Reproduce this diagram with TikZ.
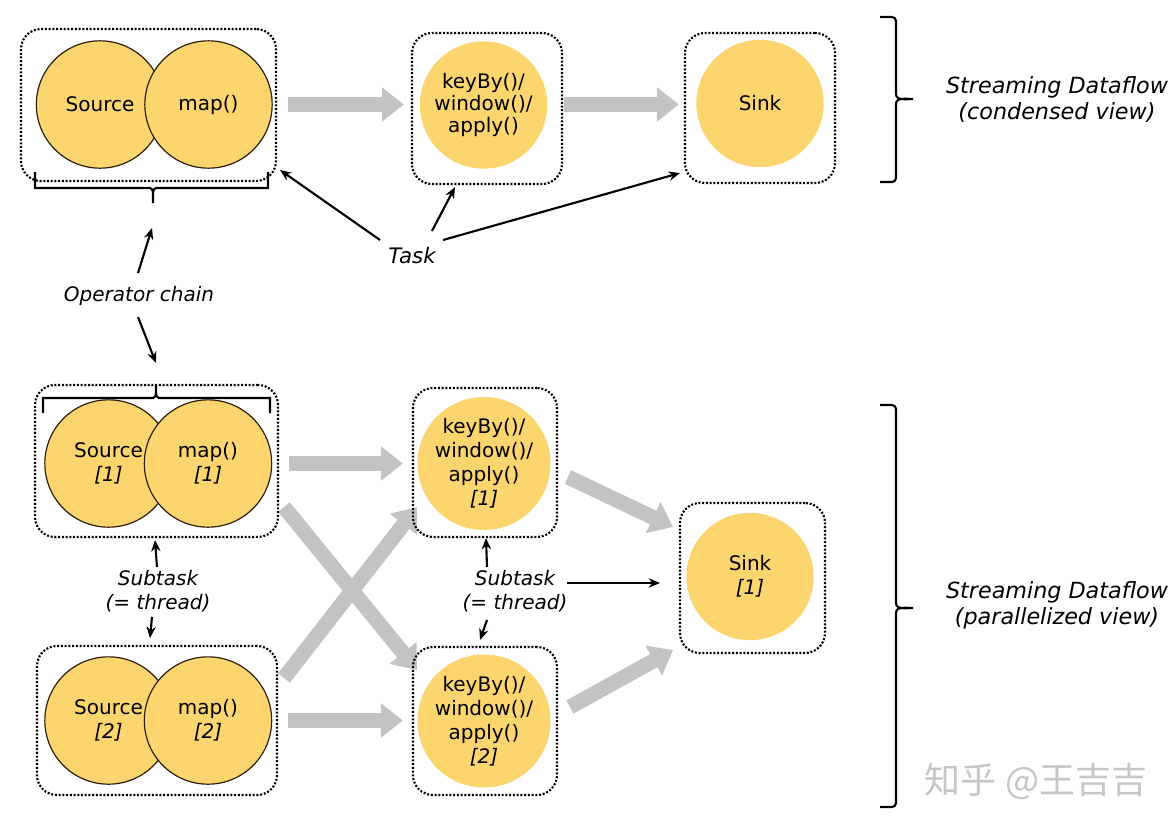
\documentclass[tikz,border=0pt]{standalone}
\usepackage{fontspec}
\setmainfont{DejaVu Sans}
\newfontfamily\cjkfont{Noto Sans CJK SC}
\usetikzlibrary{arrows.meta}
\definecolor{opfill}{RGB}{253,213,110}
\definecolor{opline}{RGB}{45,30,10}
\definecolor{flowgray}{RGB}{195,195,195}
\pgfdeclarelayer{background}
\pgfsetlayers{background,main}
\begin{document}
\begin{tikzpicture}[x=0.75pt,y=-0.75pt,
  taskbox/.style={draw, line width=1.6pt, dash pattern=on 1.5pt off 1.3pt, rounded corners=15pt, inner sep=0pt},
  opcirc/.style={circle, fill=opfill, draw=opline, line width=0.9pt, minimum size=95.5pt, inner sep=0pt},
  opcircn/.style={circle, fill=opfill, minimum size=95.5pt, inner sep=0pt},
  optext/.style={font=\fontsize{15}{18}\selectfont, align=center},
  optextt/.style={font=\fontsize{15}{16.5}\selectfont, align=center},
  flow/.style={draw=flowgray, line width=11.25pt, -{Triangle[length=16.5pt, width=24.75pt]}},
  note/.style={-{Stealth[length=8.5pt,width=7pt]}, line width=1.6pt},
  brace/.style={line width=1.6pt},
  lbl/.style={font=\fontsize{15}{18}\selectfont\itshape, align=center, inner sep=1pt},
  biglbl/.style={font=\fontsize{16.7}{19.5}\selectfont\itshape, align=center, inner sep=1pt}
]
\useasboundingbox (0,0) rectangle (1176,832);

% ---------- task boxes ----------
\node[taskbox, minimum width=191.25pt, minimum height=114pt] (b1) at (148.5,105) {};
\node[taskbox, minimum width=112.5pt, minimum height=113.25pt] (b2) at (487,108.5) {};
\node[taskbox, minimum width=112.5pt, minimum height=112.5pt] (b3) at (760,108) {};
\node[taskbox, minimum width=182.25pt, minimum height=114pt] (b4) at (156.5,461) {};
\node[taskbox, minimum width=180pt, minimum height=111.75pt] (b5) at (157,720.5) {};
\node[taskbox, minimum width=108pt, minimum height=111.75pt] (b6) at (485,462.5) {};
\node[taskbox, minimum width=108pt, minimum height=111pt] (b7) at (485,721) {};
\node[taskbox, minimum width=108.75pt, minimum height=112.5pt] (b8) at (752.5,578) {};

% ---------- operators ----------
\node[opcirc, optext] (src) at (100,104.5) {Source};
\node[opcirc, optext] (map) at (208.5,104.5) {map()};
\node[opcircn, optextt] (kw) at (483.5,105) {keyBy()/\\window()/\\apply()};
\node[opcircn, optext] (sink) at (760,103.5) {Sink};

\node[opcirc, optext] (src1) at (108.5,463.5) {Source\\\textit{[1]}};
\node[opcirc, optext] (map1) at (208,463.5) {map()\\\textit{[1]}};
\node[opcirc, optext] (src2) at (108.5,720.5) {Source\\\textit{[2]}};
\node[opcirc, optext] (map2) at (208,720.5) {map()\\\textit{[2]}};
\node[opcircn, optext] (kw1) at (484,463.5) {keyBy()/\\window()/\\apply()\\\textit{[1]}};
\node[opcircn, optext] (kw2) at (484,721) {keyBy()/\\window()/\\apply()\\\textit{[2]}};
\node[opcircn, optext] (sink1) at (750,576.5) {Sink\\\textit{[1]}};

% ---------- data flow arrows ----------
\coordinate (c1s) at (284,507);
\coordinate (c1e) at (417,670);
\coordinate (c2s) at (284,678);
\coordinate (c2e) at (417,507);
\coordinate (d1s) at (568,477);
\coordinate (d1e) at (673,527);
\coordinate (d2s) at (570,707);
\coordinate (d2e) at (673,650);
\begin{pgfonlayer}{background}
\draw[flow, shorten <=8.25pt, shorten >=5.25pt] (b1.east |- src) -- (b2.west |- src);
\draw[flow, shorten <=0.75pt, shorten >=3.75pt] (b2.east |- src) -- (b3.west |- src);
\draw[flow, shorten <=7.5pt, shorten >=6.75pt] (b4.east |- src1) -- (b6.west |- src1);
\draw[flow, shorten <=7.5pt, shorten >=6.75pt] (b5.east |- src2) -- (b7.west |- src2);
\draw[flow] (c1s) -- (c1e);
\draw[flow] (c2s) -- (c2e);
\draw[flow] (d1s) -- (d1e);
\draw[flow] (d2s) -- (d2e);
\end{pgfonlayer}

% ---------- braces ----------
\draw[brace] (35,172) -- (35,188) -- (150,188) to[out=0,in=90] (153,193) -- (153,203);
\draw[brace] (268,172) -- (268,188) -- (156,188) to[out=180,in=90] (153,193);
\draw[brace] (43,413) -- (43,398) -- (153,398) to[out=0,in=-90] (156,393) -- (156,385);
\draw[brace] (270,413) -- (270,398) -- (159,398) to[out=180,in=-90] (156,393);

\draw[brace] (880,17) -- (892,17) to[out=0,in=90] (896,21) -- (896,94) to[out=-90,in=180] (913,99)
  to[out=180,in=90] (896,104) -- (896,178) to[out=-90,in=0] (892,182) -- (880,182);
\draw[brace] (880,405) -- (892,405) to[out=0,in=90] (896,409) -- (896,603) to[out=-90,in=180] (913,608)
  to[out=180,in=90] (896,613) -- (896,803) to[out=-90,in=0] (892,807) -- (880,807);

% ---------- labels ----------
\node[biglbl] (sdc) at (1057,100) {Streaming Dataflow\\(condensed view)};
\node[biglbl] (sdp) at (1057,605) {Streaming Dataflow\\(parallelized view)};
\node[font=\fontsize{16}{18}\selectfont\itshape, inner sep=1pt] (task) at (412,256) {Task};
\node[lbl] (opchain) at (139,296) {Operator chain};
\node[lbl] (sub1) at (158,591) {Subtask\\(= thread)};
\node[lbl] (sub2) at (515,591) {Subtask\\(= thread)};
\node[font=\cjkfont\fontsize{27}{27}\selectfont, text=gray!45, inner sep=0pt] (wm) at (1036,781) {知乎 @王吉吉};

% ---------- annotation arrows ----------
\coordinate (t1s) at (380,240); \coordinate (t1e) at (280,170);
\coordinate (t2s) at (432,231); \coordinate (t2e) at (455,187);
\coordinate (t3s) at (443,240); \coordinate (t3e) at (680,173);
\coordinate (o1s) at (138,273); \coordinate (o1e) at (152,228);
\coordinate (o2s) at (138,317); \coordinate (o2e) at (156,363);
\coordinate (s1s) at (157,567); \coordinate (s1e) at (155,540);
\coordinate (s2s) at (152,617); \coordinate (s2e) at (150,638);
\coordinate (s3s) at (487,567); \coordinate (s3e) at (486,538);
\coordinate (s4s) at (567,583); \coordinate (s4e) at (660,583);
\coordinate (s5s) at (487,620); \coordinate (s5e) at (480,640);
\draw[note] (t1s) -- (t1e);
\draw[note] (t2s) -- (t2e);
\draw[note] (t3s) -- (t3e);
\draw[note] (o1s) -- (o1e);
\draw[note] (o2s) -- (o2e);
\draw[note] (s1s) -- (s1e);
\draw[note] (s2s) -- (s2e);
\draw[note] (s3s) -- (s3e);
\draw[note, line width=1.3pt] (s4s) -- (s4e);
\draw[note] (s5s) -- (s5e);
\end{tikzpicture}
\end{document}
